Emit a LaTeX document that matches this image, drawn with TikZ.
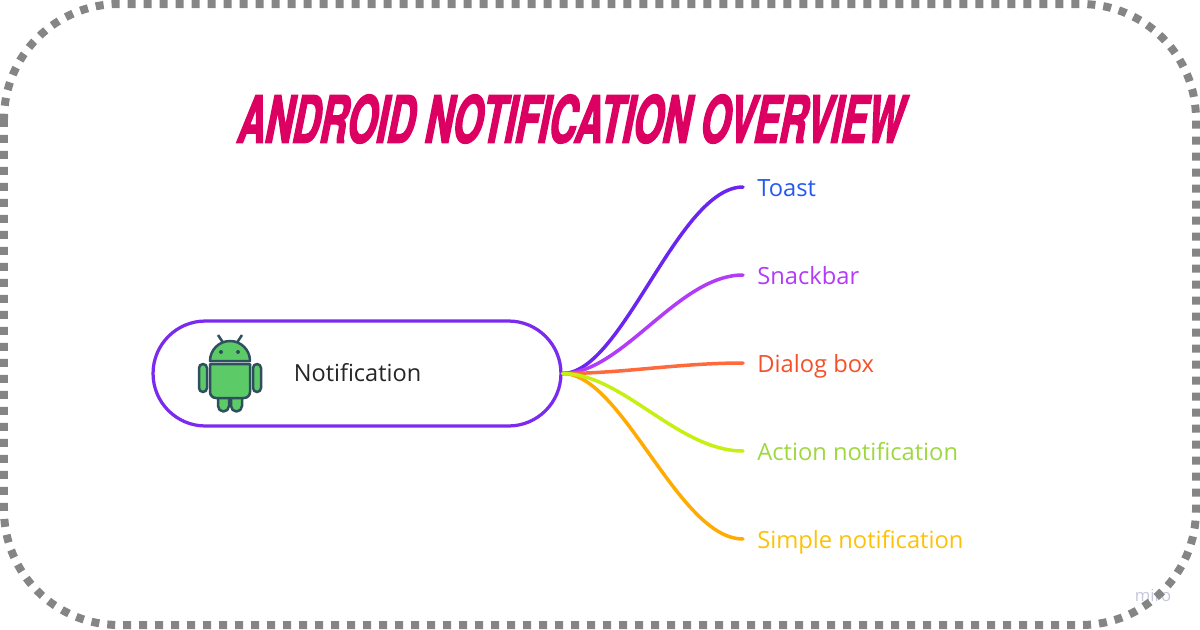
\documentclass[tikz,border=0pt]{standalone}
\usepackage{fontspec}
\setmainfont{Open Sans}
\newfontfamily\titlefont[FakeStretch=0.583,FakeSlant=0.2,FakeBold=2.2]{TeX Gyre Heros Bold}
\usetikzlibrary{positioning}
\definecolor{framegray}{HTML}{858585}
\definecolor{pillviolet}{HTML}{7B2BF0}
\definecolor{titlepink}{HTML}{DC0062}
\definecolor{droidgreen}{HTML}{5CCB67}
\definecolor{droiddark}{HTML}{2F4F5E}
\definecolor{toastblue}{HTML}{2458F0}
\definecolor{toastline}{HTML}{6B25F0}
\definecolor{snackpurple}{HTML}{B23BF7}
\definecolor{dialogred}{HTML}{F4502A}
\definecolor{dialogline}{HTML}{FF6A3D}
\definecolor{actiongreen}{HTML}{9ED83F}
\definecolor{actionline}{HTML}{C6EF12}
\definecolor{simpleyellow}{HTML}{FFC107}
\definecolor{simpleline}{HTML}{FFAB00}
\definecolor{mirogray}{HTML}{C6C6DC}
\tikzset{
	leaflabel/.style={anchor=west, inner xsep=0.28cm, inner ysep=0pt, text height=0.48cm, text depth=0.10cm, font=\fontsize{13.5}{15}\selectfont},
	branch/.style={line width=0.07cm, line cap=round},
	droidpart/.style={draw=droiddark, fill=droidgreen, line width=0.05cm, line join=round},
}

\begin{document}
\begin{tikzpicture}[x=0.02cm, y=-0.02cm]
	%%%%% START %%%%%
	\useasboundingbox (0, 0) rectangle (1200, 629);

	\node[text=mirogray, font=\fontsize{9.5}{11}\selectfont] (miro) at (1153, 595) {miro};
	\draw[line width=0.16cm, color=framegray, dash pattern=on 0.16cm off 0.16cm, rounded corners=2.3cm] (4, 4) rectangle (1196, 625);

	\node[text=titlepink, font=\titlefont\fontsize{37}{40}\selectfont] (title) at (568, 119) {ANDROID NOTIFICATION OVERVIEW};

	\node[draw=pillviolet, line width=0.065cm, rounded corners=1.05cm, minimum width=8.16cm, minimum height=2.1cm] (hub) at (357, 373.5) {};
	\node[text=black!85, font=\fontsize{13.4}{15}\selectfont] (notification) at (357.5, 373) {Notification};

	% android icon
	\draw[droidpart] (218, 335) -- (224, 344);
	\draw[droidpart] (242, 335) -- (236, 344);
	\draw[droidpart] (210, 361) arc (180:360:20 and 20) -- cycle;
	\draw[droidpart] (218, 390) -- (218, 406) arc (180:0:5.5) -- (229, 390) -- cycle;
	\draw[droidpart] (231, 390) -- (231, 406) arc (180:0:5.5) -- (242, 390) -- cycle;
	\draw[droidpart] (210, 364) -- (250, 364) [rounded corners=0.12cm] -- (250, 398) -- (210, 398) [sharp corners] -- cycle;
	\draw[droidpart, rounded corners=0.08cm] (199, 364) rectangle (207, 392);
	\draw[droidpart, rounded corners=0.08cm] (253, 364) rectangle (261, 392);
	\fill[droiddark] (221, 352) circle (2);
	\fill[droiddark] (238, 352) circle (2);

	\node[leaflabel, text=toastblue] (toast) at (743, 187) {Toast};
	\node[leaflabel, text=snackpurple] (snackbar) at (743, 275) {Snackbar};
	\node[leaflabel, text=dialogred] (dialog) at (743, 363) {Dialog box};
	\node[leaflabel, text=actiongreen] (action) at (743, 451) {Action notification};
	\node[leaflabel, text=simpleyellow] (simple) at (743, 539) {Simple notification};

	\draw[branch, color=toastline] (hub.east) .. controls +(60, 0) and +(-65, 0) .. (toast.west);
	\draw[branch, color=snackpurple] (hub.east) .. controls +(60, 0) and +(-65, 0) .. (snackbar.west);
	\draw[branch, color=dialogline] (hub.east) .. controls +(60, 0) and +(-65, 0) .. (dialog.west);
	\draw[branch, color=simpleline] (hub.east) .. controls +(60, 0) and +(-65, 0) .. (simple.west);
	\draw[branch, color=actionline] (hub.east) .. controls +(60, 0) and +(-65, 0) .. (action.west);
	%%%%% END %%%%%
\end{tikzpicture}
\end{document}
